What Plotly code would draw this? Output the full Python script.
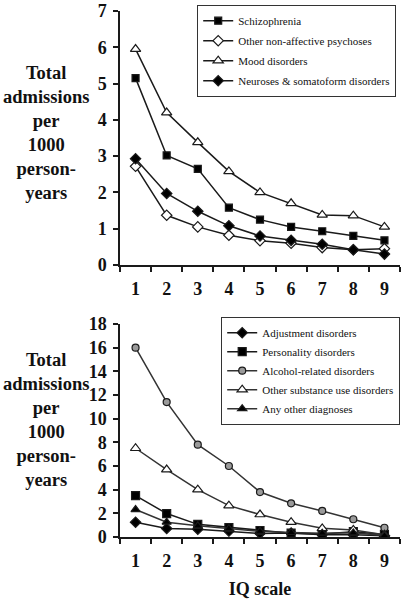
import plotly.graph_objects as go

iq = ["1", "2", "3", "4", "5", "6", "7", "8", "9"]

# Top panel
schizophrenia = [5.15, 3.02, 2.65, 1.58, 1.25, 1.05, 0.93, 0.80, 0.68]
other_nonaffective = [2.72, 1.37, 1.05, 0.82, 0.67, 0.60, 0.48, 0.42, 0.45]
mood = [5.95, 4.20, 3.38, 2.58, 2.00, 1.70, 1.38, 1.36, 1.05]
neuroses = [2.93, 1.97, 1.48, 1.08, 0.80, 0.68, 0.57, 0.42, 0.30]

# Bottom panel
adjustment = [1.25, 0.72, 0.65, 0.50, 0.30, 0.33, 0.20, 0.18, 0.10]
personality = [3.50, 1.98, 1.07, 0.80, 0.55, 0.32, 0.26, 0.45, 0.22]
alcohol = [16.0, 11.4, 7.8, 6.0, 3.8, 2.85, 2.2, 1.5, 0.78]
other_substance = [7.5, 5.7, 4.0, 2.65, 1.9, 1.25, 0.73, 0.60, 0.20]
any_other = [2.32, 1.25, 0.95, 0.70, 0.48, 0.38, 0.32, 0.35, 0.12]

top_yticks = [0, 1, 2, 3, 4, 5, 6, 7]
bottom_yticks = [0, 2, 4, 6, 8, 10, 12, 14, 16, 18]

ytitle = "Total<br>admissions<br>per<br>1000<br>person-<br>years"

W, H = 407, 600
LINE = "#1a1a1a"
SERIF = "Liberation Serif, Times New Roman, serif"

fig = go.Figure()


def add(name, vals, symbol, fill, ax, legend, size=8, lcol=LINE):
    fig.add_trace(go.Scatter(
        x=iq, y=vals, name=name, mode="lines+markers",
        line=dict(color=lcol, width=1.5),
        marker=dict(symbol=symbol, size=size, color=fill,
                    line=dict(color=LINE, width=1.2)),
        xaxis="x" if ax == 1 else "x2",
        yaxis="y" if ax == 1 else "y2",
        legend=legend, legendgroup=name,
    ))


add("Schizophrenia", schizophrenia, "square", "black", 1, "legend", 7)
add("Other non-affective psychoses", other_nonaffective, "diamond", "white", 1, "legend", 8)
add("Mood disorders", mood, "triangle-up", "white", 1, "legend", 9)
add("Neuroses & somatoform disorders", neuroses, "diamond", "black", 1, "legend", 8)

add("Adjustment disorders", adjustment, "diamond", "black", 2, "legend2", 8)
add("Personality disorders", personality, "square", "black", 2, "legend2", 8)
add("Alcohol-related disorders", alcohol, "circle", "#9a9a9a", 2, "legend2", 7, "#333333")
add("Other substance use disorders", other_substance, "triangle-up", "white", 2, "legend2", 9, "#333333")
add("Any other diagnoses", any_other, "triangle-up", "black", 2, "legend2", 8, "#333333")

xdom = [120 / W, 400 / W]
top_dom = [1 - 265 / H, 1 - 11 / H]
bot_dom = [1 - 537 / H, 1 - 324 / H]

tickfont = dict(family=SERIF, size=18, color="#111111", weight="bold")

xcommon = dict(
    type="category", tickson="boundaries", ticks="outside", ticklen=5,
    tickcolor=LINE, tickwidth=1.5, showline=True, linecolor=LINE, linewidth=1.5,
    showgrid=False, zeroline=False, tickfont=tickfont, domain=xdom,
    range=[-0.5, 8.5], fixedrange=True, automargin=False,
    ticklabelstandoff=7,
)
ycommon = dict(
    ticks="outside", ticklen=5, tickcolor=LINE, tickwidth=1.5,
    showline=True, linecolor=LINE, linewidth=1.5, showgrid=False,
    zeroline=False, tickfont=tickfont, automargin=False, fixedrange=True,
    ticklabelstandoff=3,
)

legcommon = dict(
    font=dict(family=SERIF, size=11, color="#111111"),
    bordercolor="#333333", borderwidth=1.2, bgcolor="white",
    xanchor="right", yanchor="top",
    itemwidth=30,
)

fig.update_layout(
    width=W, height=H,
    margin=dict(l=0, r=0, t=0, b=0, autoexpand=False),
    paper_bgcolor="white", plot_bgcolor="white",
    xaxis=dict(**xcommon, anchor="y"),
    yaxis=dict(**ycommon, domain=top_dom, range=[0, 7], tickvals=top_yticks, anchor="x"),
    xaxis2=dict(**xcommon, anchor="y2",
                title=dict(text="<b>IQ scale</b>", font=dict(family=SERIF, size=18, color="#111111"), standoff=12)),
    yaxis2=dict(**ycommon, domain=bot_dom, range=[0, 18], tickvals=bottom_yticks, anchor="x2"),
    legend=dict(**legcommon, x=396 / W, y=1 - 5 / H, tracegroupgap=1),
    legend2=dict(**legcommon, x=400 / W, y=1 - 317 / H, tracegroupgap=0),
    showlegend=True,
)

for yc in (133, 420):
    fig.add_annotation(
        text="<b>" + ytitle + "</b>", xref="paper", yref="paper",
        x=46 / W, y=1 - yc / H, xanchor="center", yanchor="middle",
        showarrow=False, align="center",
        font=dict(family=SERIF, size=18.5, color="#111111"),
    )

fig.write_html(
    "out.html",
    config={"displayModeBar": False},
    post_script="document.body.style.margin='0';document.body.style.overflow='hidden';",
)
